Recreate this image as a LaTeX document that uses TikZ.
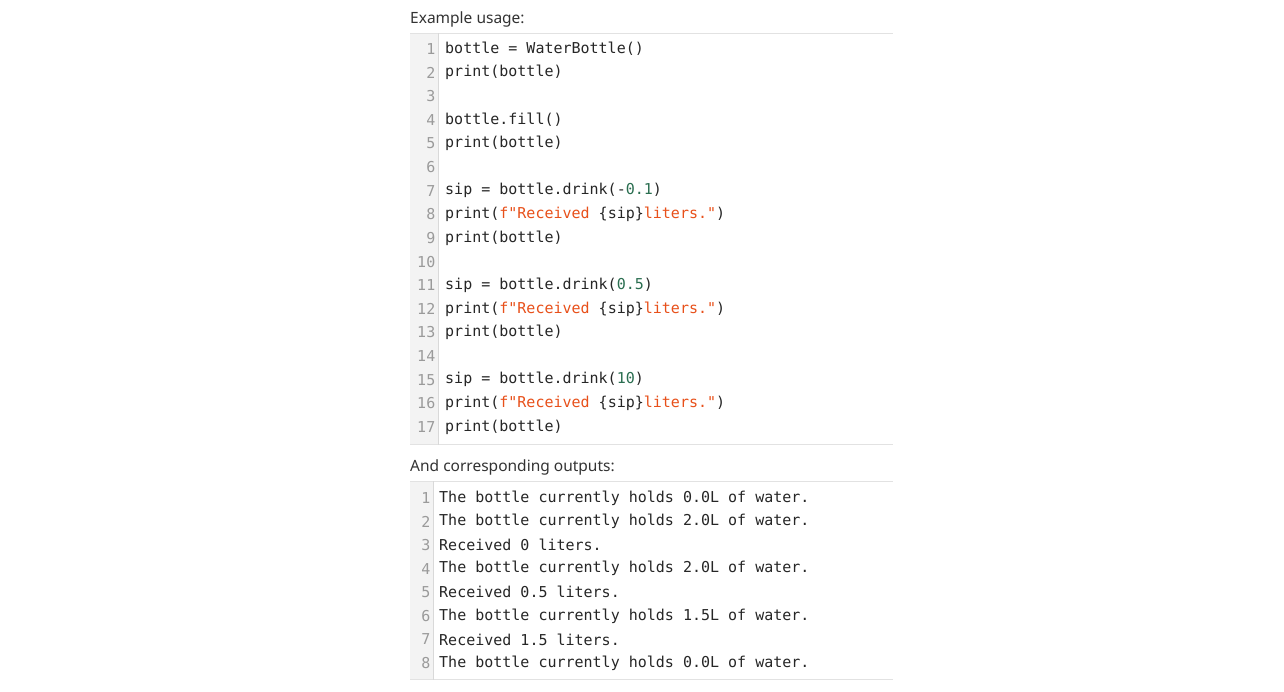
\documentclass[tikz,border=0pt]{standalone}
\usepackage{fontspec}
\setmainfont{Noto Sans}
\setmonofont{DejaVu Sans Mono}
\definecolor{strc}{HTML}{E8501A}
\definecolor{numc}{HTML}{2A6E50}
\definecolor{lnc}{HTML}{9A9A9A}
\definecolor{gut}{HTML}{F3F3F3}
\definecolor{brd}{HTML}{E2E2E2}
\begin{document}
\begin{tikzpicture}[x=1pt,y=-1pt,
  code/.style={anchor=west,inner sep=0pt,font=\fontsize{15}{15}\selectfont\ttfamily,text=black!85},
  lnum/.style={anchor=east,inner sep=0pt,font=\fontsize{15}{15}\selectfont\ttfamily,text=lnc},
  lab/.style={anchor=west,inner sep=0pt,font=\fontsize{15.5}{16}\selectfont,text=black!80}]
\useasboundingbox[fill=white] (0,0) rectangle (1284,691);
\node[lab] (l1) at (410,19) {Example usage:};
\fill[gut] (410,33) rectangle (438,445);
\draw[brd] (410,33.5) -- (893,33.5) (410,444.5) -- (893,444.5);
\draw[black!15] (438.5,33) -- (438.5,445);
\foreach \i/\t in {1/{bottle = WaterBottle()},2/{print(bottle)},4/{bottle.fill()},5/{print(bottle)},
  7/{sip = bottle.drink(-\textcolor{numc}{0.1})},
  8/{print(\textcolor{strc}{f"Received }\{sip\}\textcolor{strc}{ liters."})},
  9/{print(bottle)},
  11/{sip = bottle.drink(\textcolor{numc}{0.5})},
  12/{print(\textcolor{strc}{f"Received }\{sip\}\textcolor{strc}{ liters."})},
  13/{print(bottle)},
  15/{sip = bottle.drink(\textcolor{numc}{10})},
  16/{print(\textcolor{strc}{f"Received }\{sip\}\textcolor{strc}{ liters."})},
  17/{print(bottle)}}
  \node[code] (c\i) at (445,{49+(\i-1)*23.625}) {\t};
\foreach \i in {1,...,17}
  \node[lnum] (n\i) at (435.5,{49+(\i-1)*23.625}) {\i};
\node[lab] (l2) at (410,467) {And corresponding outputs:};
\fill[gut] (410,481) rectangle (433,680);
\draw[brd] (410,481.5) -- (893,481.5) (410,679.5) -- (893,679.5);
\draw[black!15] (433.5,481) -- (433.5,680);
\foreach \i/\t in {1/{The bottle currently holds 0.0L of water.},2/{The bottle currently holds 2.0L of water.},
  3/{Received 0 liters.},4/{The bottle currently holds 2.0L of water.},5/{Received 0.5 liters.},
  6/{The bottle currently holds 1.5L of water.},7/{Received 1.5 liters.},8/{The bottle currently holds 0.0L of water.}}
  {\node[code] (o\i) at (439,{498+(\i-1)*23.57}) {\t};
   \node[lnum] (m\i) at (430.5,{498+(\i-1)*23.57}) {\i};}
\end{tikzpicture}
\end{document}
